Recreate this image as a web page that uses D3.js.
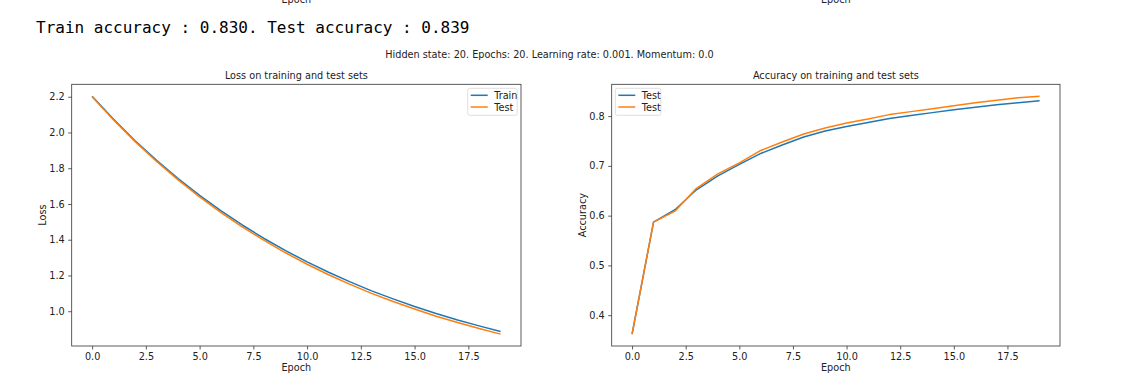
<!DOCTYPE html>
<html>
<head>
<meta charset="utf-8">
<script src="https://cdn.jsdelivr.net/npm/d3@7"></script>
<style>
  html, body { margin: 0; padding: 0; background: #fff; }
  svg { display: block; }
  text { font-family: "DejaVu Sans", sans-serif; fill: #222; }
</style>
</head>
<body>
<svg id="chart" width="1124" height="378"></svg>
<script>
// ---- data ----
const epochs = [0,1,2,3,4,5,6,7,8,9,10,11,12,13,14,15,16,17,18,19];
const lossTrain = [2.203,2.074,1.954,1.844,1.742,1.648,1.561,1.481,1.407,1.339,1.276,1.218,1.164,1.114,1.069,1.026,0.987,0.951,0.918,0.887];
const lossTest  = [2.200,2.070,1.949,1.838,1.735,1.640,1.552,1.471,1.396,1.327,1.263,1.204,1.150,1.100,1.054,1.012,0.972,0.937,0.903,0.872];
const accTrain  = [0.362,0.587,0.612,0.652,0.680,0.703,0.725,0.742,0.758,0.770,0.779,0.787,0.795,0.801,0.807,0.813,0.818,0.823,0.827,0.831];
const accTest   = [0.362,0.587,0.609,0.655,0.684,0.706,0.731,0.748,0.764,0.776,0.786,0.794,0.803,0.809,0.815,0.821,0.827,0.832,0.837,0.840];
const xTicks = [0,2.5,5,7.5,10,12.5,15,17.5];
const lossTicks = [1.0,1.2,1.4,1.6,1.8,2.0,2.2];
const accTicks = [0.4,0.5,0.6,0.7,0.8];
const lossLegend = ["Train","Test"];
const accLegend = ["Test","Test"];
const colors = ["#1f77b4","#ff7f0e"];
const headline = "Train accuracy : 0.830. Test accuracy : 0.839";
const subtitle = "Hidden state: 20. Epochs: 20. Learning rate: 0.001. Momentum: 0.0";

const FS = 9.7;
const svg = d3.select("#chart");

// x-labels of the plots above, cut off at the top edge as in the reference
[296.3, 835.8].forEach(cx => {
  svg.append("text").attr("x", cx).attr("y", 3).attr("text-anchor","middle")
    .attr("font-size", FS).text("Epoch");
});

svg.append("text").attr("x", 36).attr("y", 33)
  .style("font-family", "'DejaVu Sans Mono', monospace").attr("font-size", 16)
  .style("fill","#000").text(headline);

svg.append("text").attr("x", 549.5).attr("y", 57.5).attr("text-anchor","middle")
  .attr("font-size", FS).text(subtitle);

function pad(lo, hi) { const m = (hi - lo) * 0.05; return [lo - m, hi + m]; }

function panel(opts) {
  const {x0, x1, y0, y1, series, yTicks, yFmt, title, ylabel, legend, legendX} = opts;
  const g = svg.append("g");
  const allY = series.flat();
  const x = d3.scaleLinear().domain(pad(d3.min(epochs), d3.max(epochs))).range([x0, x1]);
  const y = d3.scaleLinear().domain(pad(d3.min(allY), d3.max(allY))).range([y1, y0]);

  // lines
  const line = d3.line().x((d,i) => x(epochs[i])).y(d => y(d));
  series.forEach((s, k) => {
    g.append("path").datum(s).attr("d", line).attr("fill","none")
      .attr("stroke", colors[k]).attr("stroke-width", 1.5).attr("stroke-linejoin","round");
  });

  // axes
  const xa = g.append("g").attr("transform", `translate(0,${y1})`)
    .call(d3.axisBottom(x).tickValues(xTicks).tickFormat(d3.format(".1f")).tickSize(3.5).tickPadding(3.5));
  const ya = g.append("g").attr("transform", `translate(${x0},0)`)
    .call(d3.axisLeft(y).tickValues(yTicks).tickFormat(d3.format(yFmt)).tickSize(3.5).tickPadding(3.5));
  [xa, ya].forEach(a => {
    a.select(".domain").remove();
    a.selectAll("line").attr("stroke","#333").attr("stroke-width",0.8);
    a.selectAll("text").attr("font-size", FS).style("font-family","'DejaVu Sans', sans-serif").style("fill","#222");
  });

  // frame
  g.append("rect").attr("x", x0).attr("y", y0).attr("width", x1 - x0).attr("height", y1 - y0)
    .attr("fill","none").attr("stroke","#333").attr("stroke-width",0.8);

  // title and labels
  g.append("text").attr("x", (x0+x1)/2).attr("y", y0 - 5).attr("text-anchor","middle")
    .attr("font-size", FS).text(title);
  g.append("text").attr("x", (x0+x1)/2).attr("y", 370.5).attr("text-anchor","middle")
    .attr("font-size", FS).text("Epoch");
  g.append("text").attr("transform", `translate(${opts.ylabelX},${(y0+y1)/2}) rotate(-90)`)
    .attr("text-anchor","middle").attr("font-size", FS).text(ylabel);

  // legend
  const lg = g.append("g").attr("transform", `translate(${legendX},${y0+4})`);
  lg.append("rect").attr("x",0).attr("y",0).attr("width", opts.legendW).attr("height", 27)
    .attr("rx", 2).attr("fill","#fff").attr("fill-opacity",0.8).attr("stroke","#d6d6d6").attr("stroke-width",0.8);
  legend.forEach((lab, k) => {
    const ly = 7 + k * 11.7;
    lg.append("line").attr("x1", 3).attr("x2", 20).attr("y1", ly).attr("y2", ly)
      .attr("stroke", colors[k]).attr("stroke-width", 1.5);
    lg.append("text").attr("x", 26.5).attr("y", ly + 3.6).attr("font-size", FS).text(lab);
  });
}

panel({x0: 71.7, x1: 521, y0: 84.3, y1: 346, series: [lossTrain, lossTest], yTicks: lossTicks, yFmt: ".1f",
  title: "Loss on training and test sets", ylabel: "Loss", legend: lossLegend, legendX: 467.7, legendW: 49.5, ylabelX: 46});
panel({x0: 611.7, x1: 1060, y0: 84.3, y1: 346, series: [accTrain, accTest], yTicks: accTicks, yFmt: ".1f",
  title: "Accuracy on training and test sets", ylabel: "Accuracy", legend: accLegend, legendX: 615.3, legendW: 45.5, ylabelX: 586});
</script>
</body>
</html>
